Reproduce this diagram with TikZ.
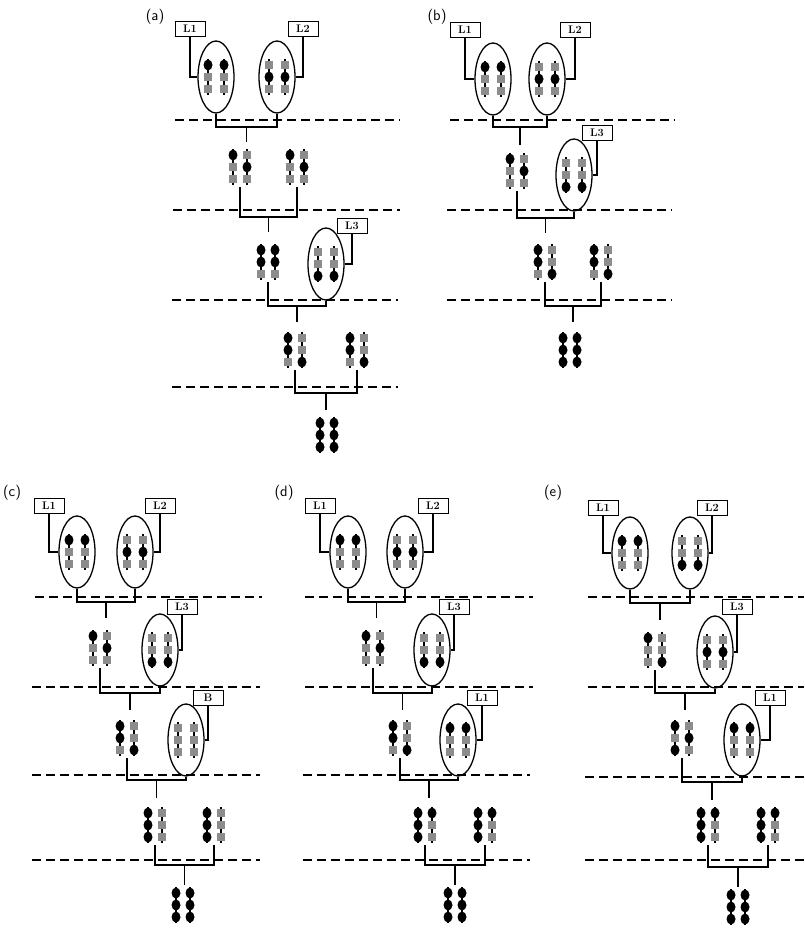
\documentclass[tikz,border=0pt]{standalone}
\usetikzlibrary{shapes.geometric}
\tikzset{
 chl/.style={line width=1.3pt,black},
 gmk/.style={fill=black!45},
 conn/.style={line width=1.3pt,black},
 dl/.style={line width=1.8pt,dash pattern=on 9pt off 5pt},
 dlt/.style={line width=1.2pt,dash pattern=on 9pt off 5pt},
 ell/.style={draw,line width=1.3pt,ellipse,minimum width=36pt,minimum height=72pt,inner sep=0pt},
 pr/.style={minimum width=28pt,minimum height=40pt,inner sep=0pt},
 lab/.style={draw,line width=1pt,minimum width=30pt,minimum height=15pt,inner sep=1pt,font=\fontsize{11}{11}\selectfont\bfseries},
 ptl/.style={font=\sffamily\fontsize{15}{15}\selectfont}
}
\newcommand\mk[3]{\if#3B\fill (#1,#2) ellipse (4.5 and 5.5);\else\fill[gmk] (#1-4,#2-4) rectangle (#1+4,#2+4);\fi}
\def\chrB#1#2#3#4#5{\draw[chl] (#1,#2-18)--(#1,#2+18);\mk{#1}{#2-12}{#3}\mk{#1}{#2}{#4}\mk{#1}{#2+12}{#5}}
\newcommand\chr[3]{\chrB{#1}{#2}#3}
\newcommand\pair[5]{\node[pr] (#1) at (#2,#3) {};\chr{#2-7}{#3}{#4}\chr{#2+7}{#3}{#5}}
\newcommand\grp[5]{\node[ell] (#1) at (#2,#3) {};\chr{#2-8}{#3}{#4}\chr{#2+8}{#3}{#5}}
\newcommand\brk[4]{\coordinate (yy) at (0,#3);
 \draw[conn] (#1.south) -- (#1.south |- yy) -| (#2.south);
 \path (#1.south |- yy) -- (#2.south |- yy) coordinate[midway] (mm);
 \draw[conn] (mm) -- ++(0,#4);}
\begin{document}
\begin{tikzpicture}[x=1pt,y=-1pt]
\fill[white] (0,0) rectangle (804,950);
\useasboundingbox (0,0) rectangle (804,950);
% ---------- (a)
\node[ptl] (ta) at (155,17) {(a)};
\grp{a1}{216}{77}{BGG}{BGG}
\grp{a2}{277}{77}{GBG}{GBG}
\node[lab] (aL1) at (190,29) {L1};
\node[lab] (aL2) at (303,29) {L2};
\draw[conn] (aL1.south) |- (a1.west);
\draw[conn] (aL2.south) |- (a2.east);
\draw[dl] (175,120) -- (400,120);
\brk{a1}{a2}{127}{15}
\pair{a3}{240}{167}{BGG}{GBG}
\pair{a4}{297}{167}{BGG}{GBG}
\draw[dl] (173,210) -- (400,210);
\brk{a3}{a4}{217}{15}
\pair{a5}{268}{262}{BBG}{BBG}
\grp{a6}{326}{264}{GGB}{GGB}
\node[lab] (aL3) at (352,226) {L3};
\draw[conn] (aL3.south) |- (a6.east);
\draw[dl] (172,300) -- (398,300);
\brk{a5}{a6}{306}{16}
\pair{a7}{295}{350}{BBG}{GGB}
\pair{a8}{357}{350}{BBG}{GGB}
\draw[dl] (172,387) -- (398,387);
\brk{a7}{a8}{393}{17}
\pair{a9}{327}{435}{BBB}{BBB}
% ---------- (b)
\node[ptl] (tb) at (437,17) {(b)};
\grp{b1}{493}{79}{BGG}{BGG}
\grp{b2}{547}{79}{GBG}{GBG}
\node[lab] (bL1) at (465,30) {L1};
\node[lab] (bL2) at (575,30) {L2};
\draw[conn] (bL1.south) |- (b1.west);
\draw[conn] (bL2.south) |- (b2.east);
\draw[dl] (450,120) -- (675,120);
\brk{b1}{b2}{127}{18}
\pair{b3}{517}{171}{BGG}{GBG}
\grp{b4}{574}{175}{GGB}{GGB}
\node[lab] (bL3) at (597,133) {L3};
\draw[conn] (bL3.south) |- (b4.east);
\draw[dl] (447,210) -- (672,210);
\brk{b3}{b4}{218}{15}
\pair{b5}{545}{262}{BBG}{GGB}
\pair{b6}{601}{262}{BBG}{GGB}
\draw[dl] (447,300) -- (672,300);
\brk{b5}{b6}{306}{16}
\pair{b7}{570}{350}{BBB}{BBB}
% ---------- (c)
\node[ptl] (tc) at (12,493) {(c)};
\grp{c1}{77}{552}{BGG}{BGG}
\grp{c2}{135}{552}{GBG}{GBG}
\node[lab] (cL1) at (49,506) {L1};
\node[lab] (cL2) at (160,506) {L2};
\draw[conn] (cL1.south) |- (c1.west);
\draw[conn] (cL2.south) |- (c2.east);
\draw[dlt] (35,597) -- (262,597);
\brk{c1}{c2}{602}{16}
\pair{c3}{100}{648}{BGG}{GBG}
\grp{c4}{160}{650}{GGB}{GGB}
\node[lab] (cL3) at (182,607) {L3};
\draw[conn] (cL3.south) |- (c4.east);
\draw[dlt] (32,687) -- (260,687);
\brk{c3}{c4}{693}{17}
\pair{c5}{127}{738}{BBG}{GGB}
\grp{c6}{186}{740}{GGG}{GGG}
\node[lab] (cB) at (208,698) {B};
\draw[conn] (cB.south) |- (c6.east);
\draw[dl] (32,775) -- (260,775);
\brk{c5}{c6}{780}{18}
\pair{c7}{155}{825}{BBB}{GGG}
\pair{c8}{214}{825}{BBB}{GGG}
\draw[dl] (32,860) -- (260,860);
\brk{c7}{c8}{865}{20}
\pair{c9}{183}{905}{BBB}{BBB}
% ---------- (d)
\node[ptl] (td) at (284,493) {(d)};
\grp{d1}{348}{552}{BGG}{BGG}
\grp{d2}{405}{552}{GBG}{GBG}
\node[lab] (dL1) at (320,506) {L1};
\node[lab] (dL2) at (433,506) {L2};
\draw[conn] (dL1.south) |- (d1.west);
\draw[conn] (dL2.south) |- (d2.east);
\draw[dlt] (305,597) -- (533,597);
\brk{d1}{d2}{602}{16}
\pair{d3}{373}{648}{BGG}{GBG}
\grp{d4}{432}{650}{GGB}{GGB}
\node[lab] (dL3) at (454,607) {L3};
\draw[conn] (dL3.south) |- (d4.east);
\draw[dlt] (305,687) -- (533,687);
\brk{d3}{d4}{693}{17}
\pair{d5}{400}{738}{BBG}{GGB}
\grp{d6}{458}{740}{BGG}{BGG}
\node[lab] (dL4) at (482,698) {L1};
\draw[conn] (dL4.south) |- (d6.east);
\draw[dl] (303,775) -- (530,775);
\brk{d5}{d6}{780}{18}
\pair{d7}{425}{825}{BBB}{BGG}
\pair{d8}{485}{825}{BBB}{BGG}
\draw[dl] (303,860) -- (530,860);
\brk{d7}{d8}{865}{20}
\pair{d9}{455}{905}{BBB}{BBB}
% ---------- (e)
\node[ptl] (te) at (553,493) {(e)};
\grp{e1}{630}{553}{BGG}{BGG}
\grp{e2}{690}{553}{GGB}{GGB}
\node[lab] (eL1) at (603,508) {L1};
\node[lab] (eL2) at (712,508) {L2};
\draw[conn] (eL1.south) |- (e1.west);
\draw[conn] (eL2.south) |- (e2.east);
\draw[dlt] (588,597) -- (804,597);
\brk{e1}{e2}{603}{17}
\pair{e3}{655}{650}{BGG}{GGB}
\grp{e4}{715}{652}{GBG}{GBG}
\node[lab] (eL3) at (737,607) {L3};
\draw[conn] (eL3.south) |- (e4.east);
\draw[dlt] (588,687) -- (804,687);
\brk{e3}{e4}{693}{17}
\pair{e5}{682}{738}{BGB}{GBG}
\grp{e6}{742}{740}{BGG}{BGG}
\node[lab] (eL4) at (770,698) {L1};
\draw[conn] (eL4.south) |- (e6.east);
\draw[dl] (585,777) -- (804,777);
\brk{e5}{e6}{782}{18}
\pair{e7}{708}{825}{BBB}{BGG}
\pair{e8}{768}{825}{BBB}{BGG}
\draw[dl] (585,860) -- (804,860);
\brk{e7}{e8}{867}{20}
\pair{e9}{738}{907}{BBB}{BBB}
\end{tikzpicture}
\end{document}
